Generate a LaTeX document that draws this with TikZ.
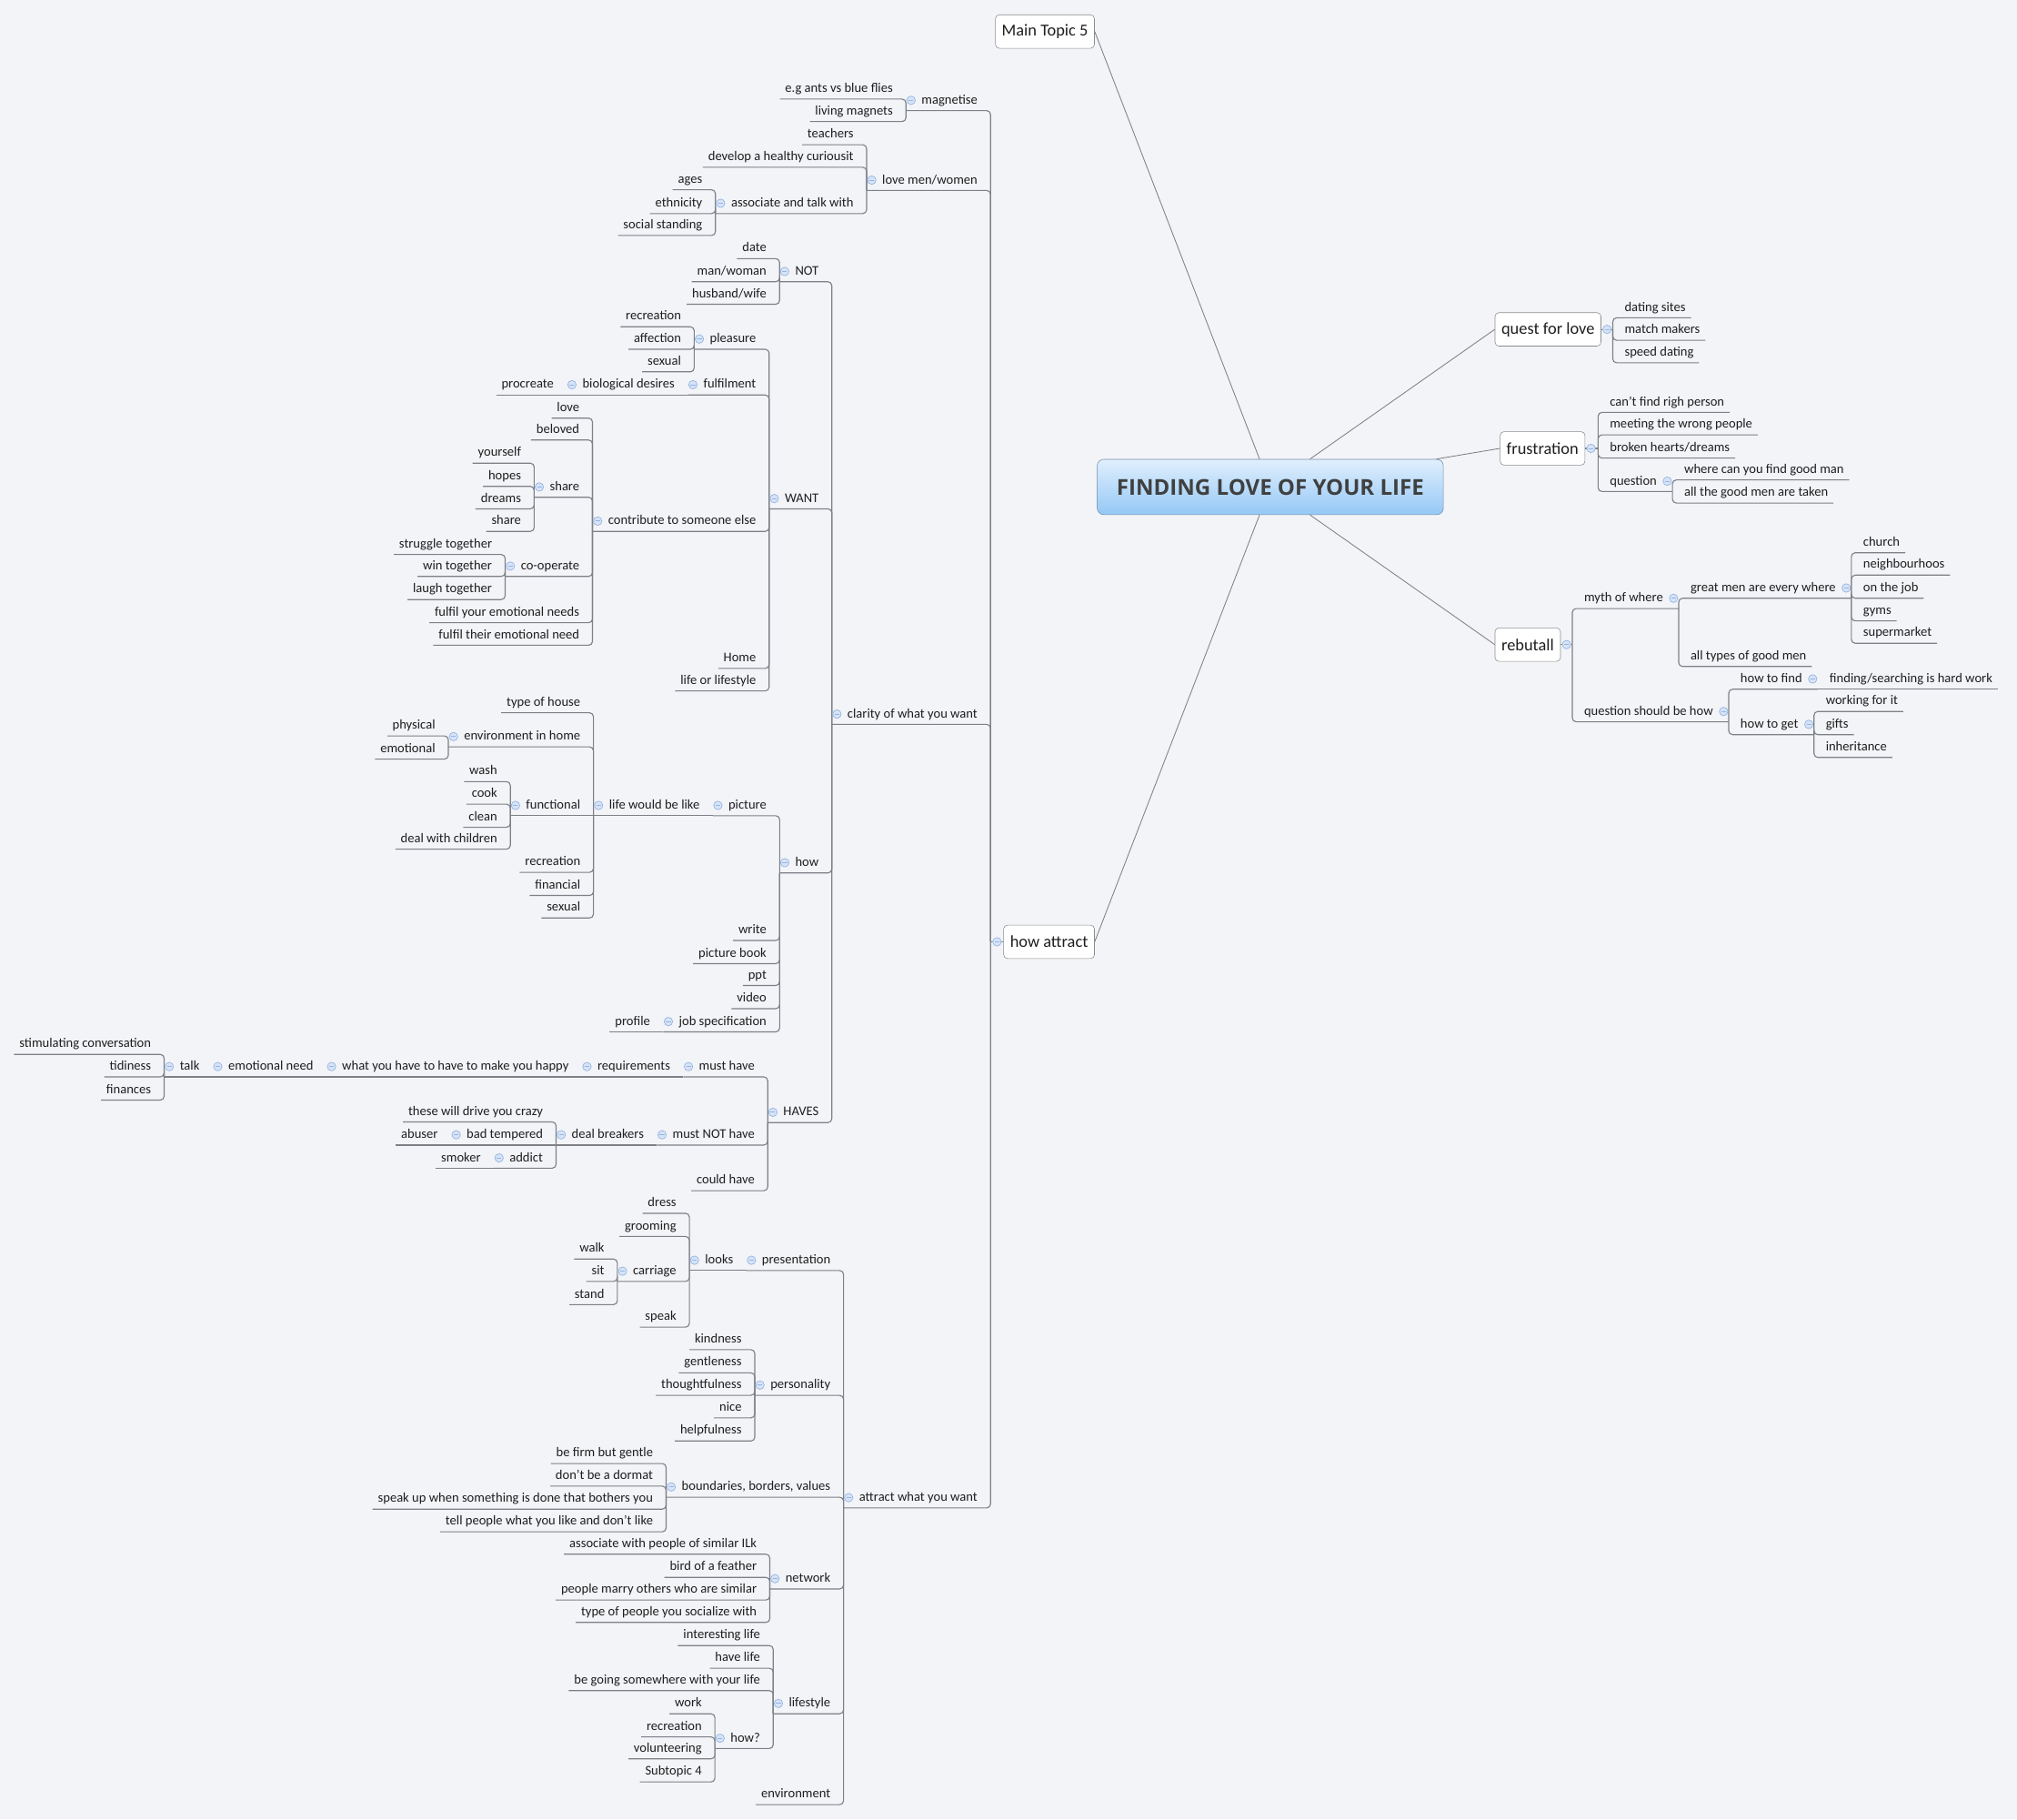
\documentclass[tikz,border=0pt]{standalone}
\usepackage{fontspec}
\setmainfont{Carlito}
\newfontfamily\titlefont{Open Sans}
\definecolor{bg}{RGB}{243,244,248}
\definecolor{linegray}{RGB}{125,128,134}
\definecolor{txt}{RGB}{30,30,30}
\definecolor{boxline}{RGB}{140,140,140}
\definecolor{togfill}{RGB}{214,228,247}
\definecolor{togline}{RGB}{150,180,225}
\definecolor{rootA}{RGB}{224,239,253}
\definecolor{rootB}{RGB}{148,200,246}
\definecolor{rootline}{RGB}{120,140,165}
\definecolor{titletxt}{RGB}{64,64,64}

\begin{document}
\begin{tikzpicture}[x=1pt, y=-1pt,
    every node/.style={text=txt},
    ln/.style={draw=linegray, line width=0.8pt, rounded corners=3pt},
    spoke/.style={draw=linegray, line width=0.6pt},
    tx/.style={inner xsep=4pt, inner ysep=5pt, text height=7pt, text depth=0pt,
               font=\fontsize{10.3}{12}\selectfont},
    lt/.style={tx, anchor=south east, xshift=-6pt},
    rt/.style={tx, anchor=south west, xshift=5pt},
    mt/.style={draw=boxline, fill=white, rounded corners=3pt, minimum height=26pt,
               inner xsep=5pt, font=\fontsize{13}{15}\selectfont},
    root/.style={draw=rootline, rounded corners=5pt, top color=rootA, bottom color=rootB,
               minimum width=269pt, minimum height=43pt, text=titletxt,
               font=\titlefont\bfseries\fontsize{17}{20}\selectfont},
    tog/.pic={\draw[draw=togline, fill=togfill, line width=0.5pt] (0,0) circle (3.3pt);
              \draw[togline, line width=0.6pt] (-1.8,0) -- (1.8,0);}]

    % --- background and page size ---
    \fill[bg] (0,0) rectangle (1568,1414);
    \useasboundingbox (0,0) rectangle (1568,1414);

    % --- CENTRAL TOPIC AND MAIN TOPICS ---
    \node[root] (root) at (987.5,378.5) {FINDING LOVE OF YOUR LIFE};
    \node[mt, anchor=east] (mt5) at (851,24.5) {Main Topic 5};
    \node[mt, anchor=west] (qfl) at (1162,256) {quest for love};
    \node[mt, anchor=west] (fru) at (1166,348.5) {frustration};
    \node[mt, anchor=west] (reb) at (1162,501) {rebutall};
    \node[mt, anchor=east] (ha) at (851,732) {how attract};
    \foreach \n/\a in {mt5/east, qfl/west, fru/west, reb/west, ha/east}
        \draw[spoke] (root) -- (\n.\a);

    % buses of the main topics
    \coordinate (ha-b) at ([xshift=-10pt]ha.west);
    \coordinate (qfl-b) at ([xshift=9pt]qfl.east);
    \coordinate (fru-b) at ([xshift=10pt]fru.east);
    \coordinate (reb-b) at ([xshift=9pt]reb.east);
    \draw[ln] (ha.west) -- (ha-b);
    \foreach \n in {qfl, fru, reb}
        \draw[ln] (\n.east) -- (\n-b);

    % --- HOW ATTRACT (left tree) ---
    % magnetise
    \node[lt] (mag) at (ha-b |- 0,86) {magnetise};
    \coordinate (mag-b) at ([xshift=-8pt]mag.south west);
    \draw[ln] (mag-b) -| (ha-b);
    \foreach \lab/\y [count=\i] in {e.g ants vs blue flies/77, living magnets/94.5}{
        \node[lt] (mag-\i) at (mag-b |- 0,\y) {\lab};
        \draw[ln] (mag-\i.south west) -| (mag-b);
    }

    % love men/women
    \node[lt] (lmw) at (ha-b |- 0,148) {love men/women};
    \coordinate (lmw-b) at ([xshift=-8pt]lmw.south west);
    \draw[ln] (lmw-b) -| (ha-b);
    \foreach \lab/\y [count=\i] in {teachers/112.5, develop a healthy curiousit/130}{
        \node[lt] (lmw-\i) at (lmw-b |- 0,\y) {\lab};
        \draw[ln] (lmw-\i.south west) -| (lmw-b);
    }
    \node[lt] (asc) at (lmw-b |- 0,166) {associate and talk with};
    \coordinate (asc-b) at ([xshift=-8pt]asc.south west);
    \draw[ln] (asc-b) -| (lmw-b);
    \foreach \lab/\y [count=\i] in {ages/147.5, ethnicity/166, social standing/183}{
        \node[lt] (asc-\i) at (asc-b |- 0,\y) {\lab};
        \draw[ln] (asc-\i.south west) -| (asc-b);
    }

    % clarity of what you want
    \node[lt] (clr) at (ha-b |- 0,563) {clarity of what you want};
    \coordinate (clr-b) at ([xshift=-8pt]clr.south west);
    \draw[ln] (clr-b) -| (ha-b);

    % NOT
    \node[lt] (not) at (clr-b |- 0,219) {NOT};
    \coordinate (not-b) at ([xshift=-8pt]not.south west);
    \draw[ln] (not-b) -| (clr-b);
    \foreach \lab/\y [count=\i] in {date/201, {man/woman}/219, {husband/wife}/236.5}{
        \node[lt] (not-\i) at (not-b |- 0,\y) {\lab};
        \draw[ln] (not-\i.south west) -| (not-b);
    }

    % WANT
    \node[lt] (wnt) at (clr-b |- 0,395.5) {WANT};
    \coordinate (wnt-b) at ([xshift=-8pt]wnt.south west);
    \draw[ln] (wnt-b) -| (clr-b);
    \node[lt] (pls) at (wnt-b |- 0,271.5) {pleasure};
    \coordinate (pls-b) at ([xshift=-8pt]pls.south west);
    \draw[ln] (pls-b) -| (wnt-b);
    \foreach \lab/\y [count=\i] in {recreation/254, affection/271.5, sexual/289}{
        \node[lt] (pls-\i) at (pls-b |- 0,\y) {\lab};
        \draw[ln] (pls-\i.south west) -| (pls-b);
    }
    \node[lt] (ful) at (wnt-b |- 0,307) {fulfilment};
    \coordinate (ful-b) at ([xshift=-8pt]ful.south west);
    \draw[ln] (ful-b) -| (wnt-b);
    \node[lt] (bio) at (ful-b |- 0,307) {biological desires};
    \coordinate (bio-b) at ([xshift=-8pt]bio.south west);
    \draw[ln] (bio-b) -- (ful-b);
    \node[lt] (bio-1) at (bio-b |- 0,307) {procreate};
    \draw[ln] (bio-1.south west) -- (bio-b);
    \node[lt] (cts) at (wnt-b |- 0,413) {contribute to someone else};
    \coordinate (cts-b) at ([xshift=-8pt]cts.south west);
    \draw[ln] (cts-b) -| (wnt-b);
    \foreach \lab/\y [count=\i] in {love/325, beloved/342, fulfil your emotional needs/484, fulfil their emotional need/501.5}{
        \node[lt] (cts-\i) at (cts-b |- 0,\y) {\lab};
        \draw[ln] (cts-\i.south west) -| (cts-b);
    }
    \node[lt] (shr) at (cts-b |- 0,386.5) {share};
    \coordinate (shr-b) at ([xshift=-8pt]shr.south west);
    \draw[ln] (shr-b) -| (cts-b);
    \foreach \lab/\y [count=\i] in {yourself/360, hopes/378, dreams/395.5, share/413}{
        \node[lt] (shr-\i) at (shr-b |- 0,\y) {\lab};
        \draw[ln] (shr-\i.south west) -| (shr-b);
    }
    \node[lt] (cop) at (cts-b |- 0,448) {co-operate};
    \coordinate (cop-b) at ([xshift=-8pt]cop.south west);
    \draw[ln] (cop-b) -| (cts-b);
    \foreach \lab/\y [count=\i] in {struggle together/431, win together/448, laugh together/466}{
        \node[lt] (cop-\i) at (cop-b |- 0,\y) {\lab};
        \draw[ln] (cop-\i.south west) -| (cop-b);
    }
    \foreach \lab/\y [count=\i] in {Home/519.5, life or lifestyle/537}{
        \node[lt] (wnt-\i) at (wnt-b |- 0,\y) {\lab};
        \draw[ln] (wnt-\i.south west) -| (wnt-b);
    }

    % how
    \node[lt] (how) at (clr-b |- 0,678.5) {how};
    \coordinate (how-b) at ([xshift=-8pt]how.south west);
    \draw[ln] (how-b) -| (clr-b);
    \node[lt] (pic) at (how-b |- 0,634) {picture};
    \coordinate (pic-b) at ([xshift=-8pt]pic.south west);
    \draw[ln] (pic-b) -| (how-b);
    \node[lt] (lwb) at (pic-b |- 0,634) {life would be like};
    \coordinate (lwb-b) at ([xshift=-8pt]lwb.south west);
    \draw[ln] (lwb-b) -- (pic-b);
    \foreach \lab/\y [count=\i] in {type of house/554, recreation/678, financial/696, sexual/713.5}{
        \node[lt] (lwb-\i) at (lwb-b |- 0,\y) {\lab};
        \draw[ln] (lwb-\i.south west) -| (lwb-b);
    }
    \node[lt] (env) at (lwb-b |- 0,580.5) {environment in home};
    \coordinate (env-b) at ([xshift=-8pt]env.south west);
    \draw[ln] (env-b) -| (lwb-b);
    \foreach \lab/\y [count=\i] in {physical/572, emotional/590}{
        \node[lt] (env-\i) at (env-b |- 0,\y) {\lab};
        \draw[ln] (env-\i.south west) -| (env-b);
    }
    \node[lt] (fun) at (lwb-b |- 0,634) {functional};
    \coordinate (fun-b) at ([xshift=-8pt]fun.south west);
    \draw[ln] (fun-b) -- (lwb-b);
    \foreach \lab/\y [count=\i] in {wash/607.5, cook/625, clean/643, deal with children/660}{
        \node[lt] (fun-\i) at (fun-b |- 0,\y) {\lab};
        \draw[ln] (fun-\i.south west) -| (fun-b);
    }
    \foreach \lab/\y [count=\i] in {write/731, picture book/749, ppt/766, video/784}{
        \node[lt] (how-\i) at (how-b |- 0,\y) {\lab};
        \draw[ln] (how-\i.south west) -| (how-b);
    }
    \node[lt] (job) at (how-b |- 0,802) {job specification};
    \coordinate (job-b) at ([xshift=-8pt]job.south west);
    \draw[ln] (job-b) -| (how-b);
    \node[lt] (job-1) at (job-b |- 0,802) {profile};
    \draw[ln] (job-1.south west) -- (job-b);

    % HAVES
    \node[lt] (hav) at (clr-b |- 0,872.5) {HAVES};
    \coordinate (hav-b) at ([xshift=-8pt]hav.south west);
    \draw[ln] (hav-b) -| (clr-b);
    \node[lt] (mh) at (hav-b |- 0,837) {must have};
    \coordinate (mh-b) at ([xshift=-8pt]mh.south west);
    \draw[ln] (mh-b) -| (hav-b);
    \node[lt] (req) at (mh-b |- 0,837) {requirements};
    \coordinate (req-b) at ([xshift=-8pt]req.south west);
    \draw[ln] (req-b) -- (mh-b);
    \node[lt] (wyh) at (req-b |- 0,837) {what you have to have to make you happy};
    \coordinate (wyh-b) at ([xshift=-8pt]wyh.south west);
    \draw[ln] (wyh-b) -- (req-b);
    \node[lt] (emn) at (wyh-b |- 0,837) {emotional need};
    \coordinate (emn-b) at ([xshift=-8pt]emn.south west);
    \draw[ln] (emn-b) -- (wyh-b);
    \node[lt] (tlk) at (emn-b |- 0,837) {talk};
    \coordinate (tlk-b) at ([xshift=-8pt]tlk.south west);
    \draw[ln] (tlk-b) -- (emn-b);
    \foreach \lab/\y [count=\i] in {stimulating conversation/819.5, tidiness/837, finances/855}{
        \node[lt] (tlk-\i) at (tlk-b |- 0,\y) {\lab};
        \draw[ln] (tlk-\i.south west) -| (tlk-b);
    }
    \node[lt] (mnh) at (hav-b |- 0,890) {must NOT have};
    \coordinate (mnh-b) at ([xshift=-8pt]mnh.south west);
    \draw[ln] (mnh-b) -| (hav-b);
    \node[lt] (dbr) at (mnh-b |- 0,890) {deal breakers};
    \coordinate (dbr-b) at ([xshift=-8pt]dbr.south west);
    \draw[ln] (dbr-b) -- (mnh-b);
    \node[lt] (dbr-1) at (dbr-b |- 0,872) {these will drive you crazy};
    \draw[ln] (dbr-1.south west) -| (dbr-b);
    \node[lt] (bdt) at (dbr-b |- 0,890) {bad tempered};
    \coordinate (bdt-b) at ([xshift=-8pt]bdt.south west);
    \draw[ln] (bdt-b) -- (dbr-b);
    \node[lt] (bdt-1) at (bdt-b |- 0,890) {abuser};
    \draw[ln] (bdt-1.south west) -- (bdt-b);
    \node[lt] (adc) at (dbr-b |- 0,908) {addict};
    \coordinate (adc-b) at ([xshift=-8pt]adc.south west);
    \draw[ln] (adc-b) -| (dbr-b);
    \node[lt] (adc-1) at (adc-b |- 0,908) {smoker};
    \draw[ln] (adc-1.south west) -- (adc-b);
    \node[lt] (hav-1) at (hav-b |- 0,925.5) {could have};
    \draw[ln] (hav-1.south west) -| (hav-b);

    % attract what you want
    \node[lt] (atw) at (ha-b |- 0,1172) {attract what you want};
    \coordinate (atw-b) at ([xshift=-8pt]atw.south west);
    \draw[ln] (atw-b) -| (ha-b);
    \node[lt] (prs) at (atw-b |- 0,987.5) {presentation};
    \coordinate (prs-b) at ([xshift=-8pt]prs.south west);
    \draw[ln] (prs-b) -| (atw-b);
    \node[lt] (lks) at (prs-b |- 0,987.5) {looks};
    \coordinate (lks-b) at ([xshift=-8pt]lks.south west);
    \draw[ln] (lks-b) -- (prs-b);
    \foreach \lab/\y [count=\i] in {dress/943, grooming/961, speak/1031.5}{
        \node[lt] (lks-\i) at (lks-b |- 0,\y) {\lab};
        \draw[ln] (lks-\i.south west) -| (lks-b);
    }
    \node[lt] (car) at (lks-b |- 0,996) {carriage};
    \coordinate (car-b) at ([xshift=-8pt]car.south west);
    \draw[ln] (car-b) -| (lks-b);
    \foreach \lab/\y [count=\i] in {walk/978.6, sit/996, stand/1014}{
        \node[lt] (car-\i) at (car-b |- 0,\y) {\lab};
        \draw[ln] (car-\i.south west) -| (car-b);
    }
    \node[lt] (per) at (atw-b |- 0,1084.5) {personality};
    \coordinate (per-b) at ([xshift=-8pt]per.south west);
    \draw[ln] (per-b) -| (atw-b);
    \foreach \lab/\y [count=\i] in {kindness/1049, gentleness/1067, thoughtfulness/1084.5, nice/1102, helpfulness/1120}{
        \node[lt] (per-\i) at (per-b |- 0,\y) {\lab};
        \draw[ln] (per-\i.south west) -| (per-b);
    }
    \node[lt] (bbv) at (atw-b |- 0,1163.7) {boundaries, borders, values};
    \coordinate (bbv-b) at ([xshift=-8pt]bbv.south west);
    \draw[ln] (bbv-b) -| (atw-b);
    \foreach \lab/\y [count=\i] in {be firm but gentle/1137.5, don't be a dormat/1155,
            speak up when something is done that bothers you/1173,
            tell people what you like and don't like/1190.6}{
        \node[lt] (bbv-\i) at (bbv-b |- 0,\y) {\lab};
        \draw[ln] (bbv-\i.south west) -| (bbv-b);
    }
    \node[lt] (net) at (atw-b |- 0,1235) {network};
    \coordinate (net-b) at ([xshift=-8pt]net.south west);
    \draw[ln] (net-b) -| (atw-b);
    \foreach \lab/\y [count=\i] in {associate with people of similar ILk/1208, bird of a feather/1226,
            people marry others who are similar/1243.6, type of people you socialize with/1261}{
        \node[lt] (net-\i) at (net-b |- 0,\y) {\lab};
        \draw[ln] (net-\i.south west) -| (net-b);
    }
    \node[lt] (lfs) at (atw-b |- 0,1332) {lifestyle};
    \coordinate (lfs-b) at ([xshift=-8pt]lfs.south west);
    \draw[ln] (lfs-b) -| (atw-b);
    \foreach \lab/\y [count=\i] in {interesting life/1279, have life/1296.6, be going somewhere with your life/1314}{
        \node[lt] (lfs-\i) at (lfs-b |- 0,\y) {\lab};
        \draw[ln] (lfs-\i.south west) -| (lfs-b);
    }
    \node[lt] (hw2) at (lfs-b |- 0,1359) {how?};
    \coordinate (hw2-b) at ([xshift=-8pt]hw2.south west);
    \draw[ln] (hw2-b) -| (lfs-b);
    \foreach \lab/\y [count=\i] in {work/1332, recreation/1350, volunteering/1367, Subtopic 4/1385}{
        \node[lt] (hw2-\i) at (hw2-b |- 0,\y) {\lab};
        \draw[ln] (hw2-\i.south west) -| (hw2-b);
    }
    \node[lt] (atw-1) at (atw-b |- 0,1402.6) {environment};
    \draw[ln] (atw-1.south west) -| (atw-b);

    % --- QUEST FOR LOVE ---
    \foreach \lab/\y [count=\i] in {dating sites/247, match makers/264.5, speed dating/282}{
        \node[rt] (qfl-\i) at (qfl-b |- 0,\y) {\lab};
        \draw[ln] (qfl-b) |- (qfl-\i.south east);
    }

    % --- FRUSTRATION ---
    \foreach \lab/\y [count=\i] in {can't find righ person/320.5, meeting the wrong people/338, {broken hearts/dreams}/356}{
        \node[rt] (fru-\i) at (fru-b |- 0,\y) {\lab};
        \draw[ln] (fru-b) |- (fru-\i.south east);
    }
    \node[rt] (qst) at (fru-b |- 0,382) {question};
    \coordinate (qst-b) at ([xshift=8pt]qst.south east);
    \draw[ln] (fru-b) |- (qst-b);
    \foreach \lab/\y [count=\i] in {where can you find good man/373, all the good men are taken/391}{
        \node[rt] (qst-\i) at (qst-b |- 0,\y) {\lab};
        \draw[ln] (qst-b) |- (qst-\i.south east);
    }

    % --- REBUTALL ---
    \node[rt] (myw) at (reb-b |- 0,473) {myth of where};
    \coordinate (myw-b) at ([xshift=8pt]myw.south east);
    \draw[ln] (reb-b) |- (myw-b);
    \node[rt] (gme) at (myw-b |- 0,465) {great men are every where};
    \coordinate (gme-b) at ([xshift=8pt]gme.south east);
    \draw[ln] (myw-b) |- (gme-b);
    \foreach \lab/\y [count=\i] in {church/429.6, neighbourhoos/447, on the job/465, gyms/482.6, supermarket/500}{
        \node[rt] (gme-\i) at (gme-b |- 0,\y) {\lab};
        \draw[ln] (gme-b) |- (gme-\i.south east);
    }
    \node[rt] (myw-1) at (myw-b |- 0,518) {all types of good men};
    \draw[ln] (myw-b) |- (myw-1.south east);
    \node[rt] (qsh) at (reb-b |- 0,561) {question should be how};
    \coordinate (qsh-b) at ([xshift=8pt]qsh.south east);
    \draw[ln] (reb-b) |- (qsh-b);
    \node[rt] (htf) at (qsh-b |- 0,535.7) {how to find};
    \coordinate (htf-b) at ([xshift=8pt]htf.south east);
    \draw[ln] (qsh-b) |- (htf-b);
    \node[rt] (htf-1) at (htf-b |- 0,535.7) {finding/searching is hard work};
    \draw[ln] (htf-b) -- (htf-1.south east);
    \node[rt] (htg) at (qsh-b |- 0,571) {how to get};
    \coordinate (htg-b) at ([xshift=8pt]htg.south east);
    \draw[ln] (qsh-b) |- (htg-b);
    \foreach \lab/\y [count=\i] in {working for it/553, gifts/571, inheritance/588.7}{
        \node[rt] (htg-\i) at (htg-b |- 0,\y) {\lab};
        \draw[ln] (htg-b) |- (htg-\i.south east);
    }

    % --- COLLAPSE MARKS ---
    \pic at ([xshift=-5pt]ha.west) {tog};
    \foreach \n in {qfl, fru, reb}
        \pic at ([xshift=4.5pt]\n.east) {tog};
    \foreach \n in {mag, lmw, asc, clr, not, wnt, pls, ful, bio, cts, shr, cop, how, pic, lwb,
                    env, fun, job, hav, mh, req, wyh, emn, tlk, mnh, dbr, bdt, adc,
                    atw, prs, lks, car, per, bbv, net, lfs, hw2}
        \pic at ([xshift=-4pt, yshift=8pt]\n.south west) {tog};
    \foreach \n in {qst, myw, gme, qsh, htf, htg}
        \pic at ([xshift=4pt, yshift=8pt]\n.south east) {tog};

\end{tikzpicture}
\end{document}
